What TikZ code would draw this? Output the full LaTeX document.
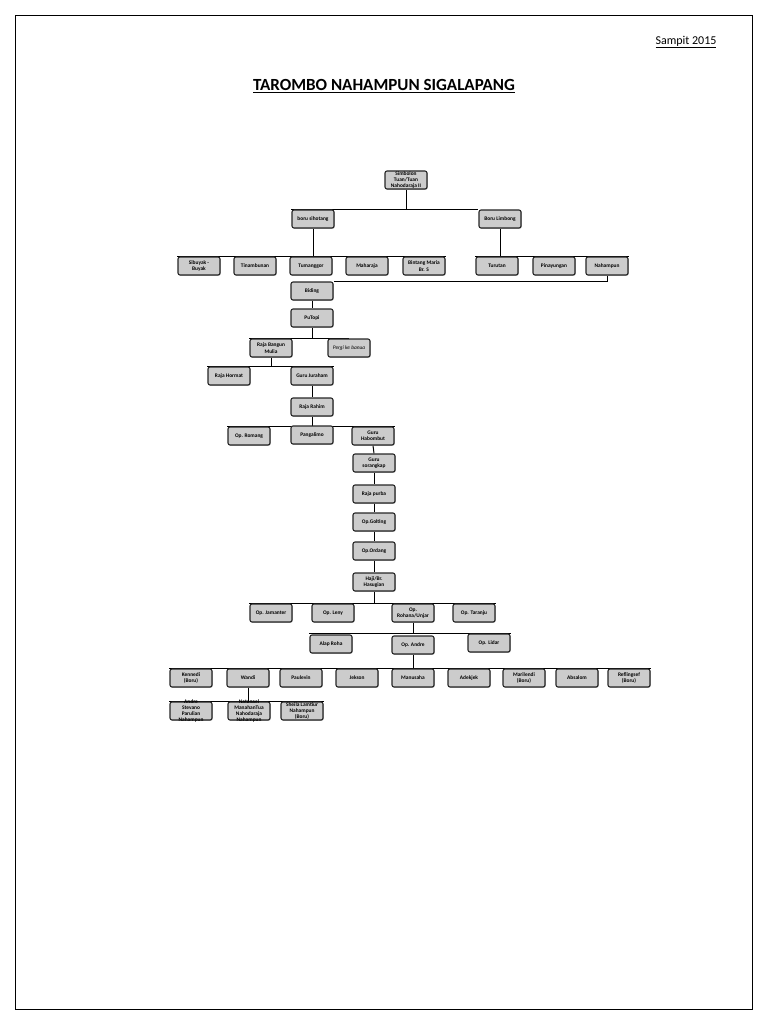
\documentclass[tikz,border=0pt]{standalone}
\usepackage{fontspec}
\setmainfont{Carlito}
\usetikzlibrary{shadows,backgrounds}
\tikzset{
  pbox/.style={draw=black!85, fill=black!20, rounded corners=2pt, line width=1.1pt,
    minimum width=42pt, minimum height=18pt, inner sep=0pt,
    drop shadow={shadow xshift=0.7pt,shadow yshift=-0.7pt,opacity=0.7}},
  ptxt/.style={font=\fontsize{5.4}{6.3}\selectfont\bfseries, align=center, inner sep=0pt, text=black},
  conn/.style={line width=1pt, black}
}
\newcommand{\pnode}[4][]{\node[pbox] (#2) at (#3) {}; \node[ptxt,#1] (#2-t) at (#2) {#4};}
\begin{document}
\begin{tikzpicture}[x=1pt,y=-1pt]
\useasboundingbox (0,0) rectangle (768,1024);
\draw[line width=0.8pt] (15,15) rectangle (752,1009);
\node[font=\fontsize{17}{20}\selectfont\bfseries] (title) at (384,86) {\underline{TAROMBO NAHAMPUN SIGALAPANG}};
\node[font=\fontsize{12}{14}\selectfont] (date) at (686,42) {\underline{Sampit 2015}};

\pnode{top}{406,180}{Simbolon\\Tuan/Tuan\\Nahodaraja II}
\pnode{bs}{313,219}{boru sihotang}
\pnode{bl}{500,219}{Boru Limbong}

\pnode{sib}{199,266}{Sibuyak -\\Buyak}
\pnode{tin}{255,266}{Tinambunan}
\pnode{tum}{311,266}{Tumanggor}
\pnode{mah}{367,266}{Maharaja}
\pnode{bin}{424,266}{Bintang Maria\\Br. S}
\pnode{tur}{497,266}{Turutan}
\pnode{pin}{554,266}{Pinayungan}
\pnode{nah}{607,266}{Nahampun}

\pnode{bid}{312,291}{Biding}
\pnode{put}{312,318}{PuTopi}
\pnode{rbm}{271,348}{Raja Bangun\\Mulia}
\pnode[font=\fontsize{5.4}{6.3}\selectfont\itshape]{pkb}{349,348}{Pergi ke banua}
\pnode{rho}{229,376}{Raja Hormat}
\pnode{gj}{312,376}{Guru Juraham}
\pnode{rr}{312,407}{Raja Rahim}
\pnode{rom}{249,436}{Op. Romang}
\pnode{pang}{312,435}{Pangalimo}
\pnode{gh}{373,436}{Guru\\Habombut}
\pnode{gs}{374,463}{Guru\\sorangkap}
\pnode{rp}{374,494}{Raja purba}
\pnode{og}{374,522}{Op.Golting}
\pnode{oo}{374,551}{Op.Ordang}
\pnode{nh}{374,582}{Haji/Br.\\Hasugian}

\pnode{jam}{271,613}{Op. Jamanter}
\pnode{len}{333,613}{Op. Leny}
\pnode{roh}{413,613}{Op.\\Rohana/Unjar}
\pnode{tar}{474,613}{Op. Taranju}

\pnode{ala}{331,644}{Alap Roha}
\pnode{and}{413,645}{Op. Andre}
\pnode{lid}{489,643}{Op. Lidar}

\pnode{ken}{191,678}{Kennedi\\(Boru)}
\pnode{wan}{248,678}{Wandi}
\pnode{pau}{301,678}{Paulevin}
\pnode{jek}{357,678}{Jekson}
\pnode{man}{413,678}{Manusaha}
\pnode{ade}{469,678}{Adekjek}
\pnode{mar}{524,678}{Marilendi\\(Boru)}
\pnode{abs}{577,678}{Absalom}
\pnode{ref}{629,678}{Reflingsef\\(Boru)}

\pnode{asp}{191,711}{Andre\\Stevano\\Parulian\\Nahampun}
\pnode{nat}{249,711}{Natanael\\ManahanTua\\Nahodaraja\\Nahampun}
\pnode{she}{302,711}{Sheila Lamtiur\\Nahampun\\(Boru)}

\begin{pgfonlayer}{background}
\draw[conn] (top.south) -- (top.south |- bs.north);
\draw[conn] (bs.north west) -- (bl.north west);
\draw[conn] (bs.south) -- (bs.south |- sib.north);
\draw[conn] (sib.north west) -- (bin.north east);
\draw[conn] (bl.south) -- (bl.south |- tur.north);
\draw[conn] (tur.north west) -- (nah.north east);
\draw[conn] (nah.south) |- (bid.north east);
\draw[conn] (bid) -- (put);
\draw[conn] (put.south) -- (put.south |- rbm.north);
\draw[conn] (rbm.north west) -- (pkb.north);
\draw[conn] (rbm.south) -- (rbm.south |- gj.north);
\draw[conn] (rho.north west) -- (gj.north east);
\draw[conn] (gj) -- (rr);
\draw[conn] (rr.south) -- (rr.south |- rom.north);
\draw[conn] (rom.north west) -- (gh.north east);
\draw[conn] (gh.south) -- (gs.north);
\draw[conn] (gs) -- (rp);
\draw[conn] (rp) -- (og);
\draw[conn] (og) -- (oo);
\draw[conn] (oo) -- (nh);
\draw[conn] (nh.south) -- (nh.south |- jam.north);
\draw[conn] (jam.north west) -- (tar.north east);
\draw[conn] (roh.south) -- (roh.south |- lid.north);
\draw[conn] (ala.north west |- lid.north) -- (lid.north east);
\draw[conn] (and.south) -- (and.south |- ken.north);
\draw[conn] (ken.north west) -- (ref.north east);
\draw[conn] (wan.south) -- (wan.south |- asp.north);
\draw[conn] (asp.north west) -- (she.north east);
\end{pgfonlayer}
\end{tikzpicture}
\end{document}
